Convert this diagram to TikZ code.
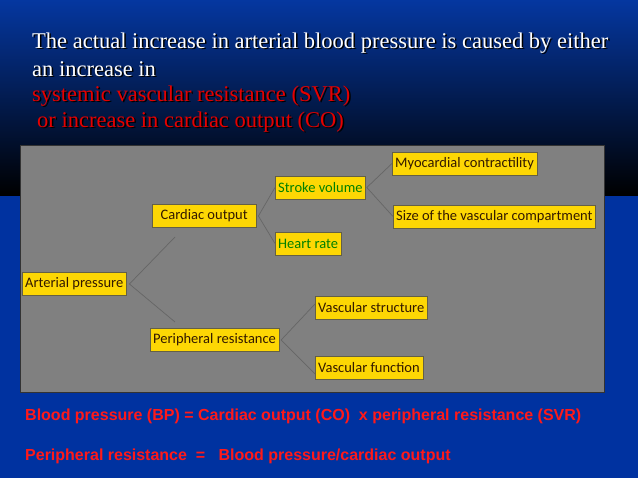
\documentclass[tikz,border=0pt]{standalone}
\usepackage{fontspec}
\setmainfont{Liberation Serif}
\newfontfamily\boxfont{Carlito}
\newfontfamily\arialf{Liberation Sans}
\begin{document}
\begin{tikzpicture}[x=1pt,y=-1pt,
  bx/.style={draw=black!70!yellow,fill=yellow!75!orange,font=\boxfont\fontsize{14.5}{16}\selectfont,text=black!80!orange,inner xsep=3pt,inner ysep=2pt,minimum height=23,anchor=west},
  gx/.style={bx,text=green!50!black},
  ln/.style={draw=black!60,line width=0.7pt},
  ttl/.style={font=\fontsize{22.5}{24}\selectfont,anchor=west,inner sep=0},
  ftx/.style={font=\arialf\bfseries\fontsize{16}{18}\selectfont,text=red!90!white,anchor=west,inner sep=0}]
\useasboundingbox (0,0) rectangle (638,478);
\fill[color={rgb,255:red,0;green,50;blue,160}] (0,0) rectangle (638,478);
\shade[top color={rgb,255:red,5;green,55;blue,160},bottom color=black] (0,0) rectangle (638,196);
\foreach \t/\y/\c/\dx in {{The actual increase in arterial blood pressure is caused by either}/43/white/0,{an increase in}/69/white/0,{systemic vascular resistance (SVR)}/96/red!90!black/0,{or increase in cardiac output (CO)}/122/red!90!black/5}{
  \node[ttl,text=black] at (33.5+\dx,\y+1.5) {\t};
  \node[ttl,text=\c] at (32+\dx,\y) {\t};}
\fill[fill={rgb,255:red,128;green,128;blue,128}, draw=black!80] (20,145) rectangle (604,392);
\node[bx] (mc) at (392,163.5) {Myocardial contractility};
\node[gx] (sv) at (275,187.5) {Stroke volume};
\node[bx] (sz) at (393,216.5) {Size of the vascular compartment};
\node[bx,minimum width=104] (co) at (152,216) {Cardiac output};
\node[gx] (hr) at (275,243.5) {Heart rate};
\node[bx] (ap) at (22,284) {Arterial pressure};
\node[bx] (pr) at (150,340) {Peripheral resistance};
\node[bx] (vs) at (315,308) {Vascular structure};
\node[bx] (vf) at (315,368) {Vascular function};
\coordinate (c1) at (175,237); \coordinate (c2) at (175,322);
\draw[ln] (c1) -- ([xshift=3pt]ap.east) -- (c2);
\draw[ln] (sv.west) -- ([xshift=2pt]co.east) -- (hr.west);
\draw[ln] (mc.west) -- ([xshift=1pt]sv.east) -- (sz.west);
\coordinate (p1) at (315,304); \coordinate (p2) at (315,374);
\draw[ln] (p1) -- ([xshift=2pt]pr.east) -- (p2);
\node[ftx] (f1) at (25,416) {Blood pressure (BP) = Cardiac output (CO)\ \ x peripheral resistance (SVR)};
\node[ftx] (f2) at (25,456) {Peripheral resistance\ \ =\ \ \ Blood pressure/cardiac output};
\end{tikzpicture}
\end{document}
